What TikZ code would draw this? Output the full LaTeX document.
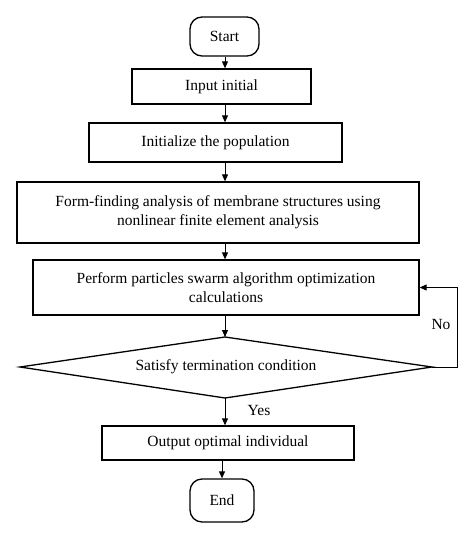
\documentclass[tikz,border=0pt]{standalone}
\usepackage{fontspec}
\setmainfont{Liberation Serif}
\usetikzlibrary{arrows.meta}
\begin{document}
\begin{tikzpicture}[x=1pt,y=-1pt,
  every node/.style={font=\fontsize{15.5}{19}\selectfont},
  procbox/.style={draw,line width=1.3pt,rectangle,inner sep=0pt,align=center},
  termbox/.style={draw,line width=1.3pt,rectangle,rounded corners=12pt,inner sep=0pt},
  decline/.style={draw,line width=1.3pt,line join=miter},
  flow/.style={line width=0.9pt,-{Triangle[length=7pt,width=6pt]}},
  lbl/.style={inner sep=0pt}]
\useasboundingbox (0,0) rectangle (474,540);
\node[termbox,minimum width=69pt,minimum height=39pt] (start) at (224.5,36.5) {Start};
\node[procbox,minimum width=179pt,minimum height=35pt] (input) at (221.5,86.5) {Input initial};
\node[procbox,minimum width=253pt,minimum height=39pt] (init) at (215.5,142.5) {Initialize the population};
\node[procbox,minimum width=402pt,minimum height=61pt] (form) at (218,212.5) {Form-finding analysis of membrane structures using\\nonlinear finite element analysis};
\node[procbox,minimum width=386pt,minimum height=55pt] (perf) at (226,287.5) {Perform particles swarm algorithm optimization\\calculations};
\node[lbl] (dec) at (226,367) {Satisfy termination condition};
\coordinate (dtop) at (225,337);
\coordinate (dbot) at (225,398);
\coordinate (dleft) at (20,367);
\coordinate (dright) at (432,367);
\draw[decline] (dtop) -- (dright) -- (dbot) -- (dleft) -- cycle;
\node[procbox,minimum width=252pt,minimum height=34pt] (out) at (228,443) {Output optimal individual};
\node[termbox,minimum width=64pt,minimum height=43pt] (end) at (222,500.5) {End};
\coordinate (c1) at (225,0);
\draw[flow] (start.south -| c1) -- (input.north -| c1);
\draw[flow] (input.south -| c1) -- (init.north -| c1);
\draw[flow] (init.south -| c1) -- (form.north -| c1);
\draw[flow] (form.south -| dtop) -- (perf.north -| dtop);
\draw[flow] (perf.south -| dtop) -- (dtop);
\draw[flow] (dbot) -- (out.north -| dbot);
\draw[flow] (out.south -| end.north) -- (end.north);
\coordinate (loop) at (457,367);
\draw[flow] (dright) -- (loop) |- (perf.east);
\node[lbl] (no) at (441,324) {No};
\node[lbl] (yes) at (259,410) {Yes};
\end{tikzpicture}
\end{document}
